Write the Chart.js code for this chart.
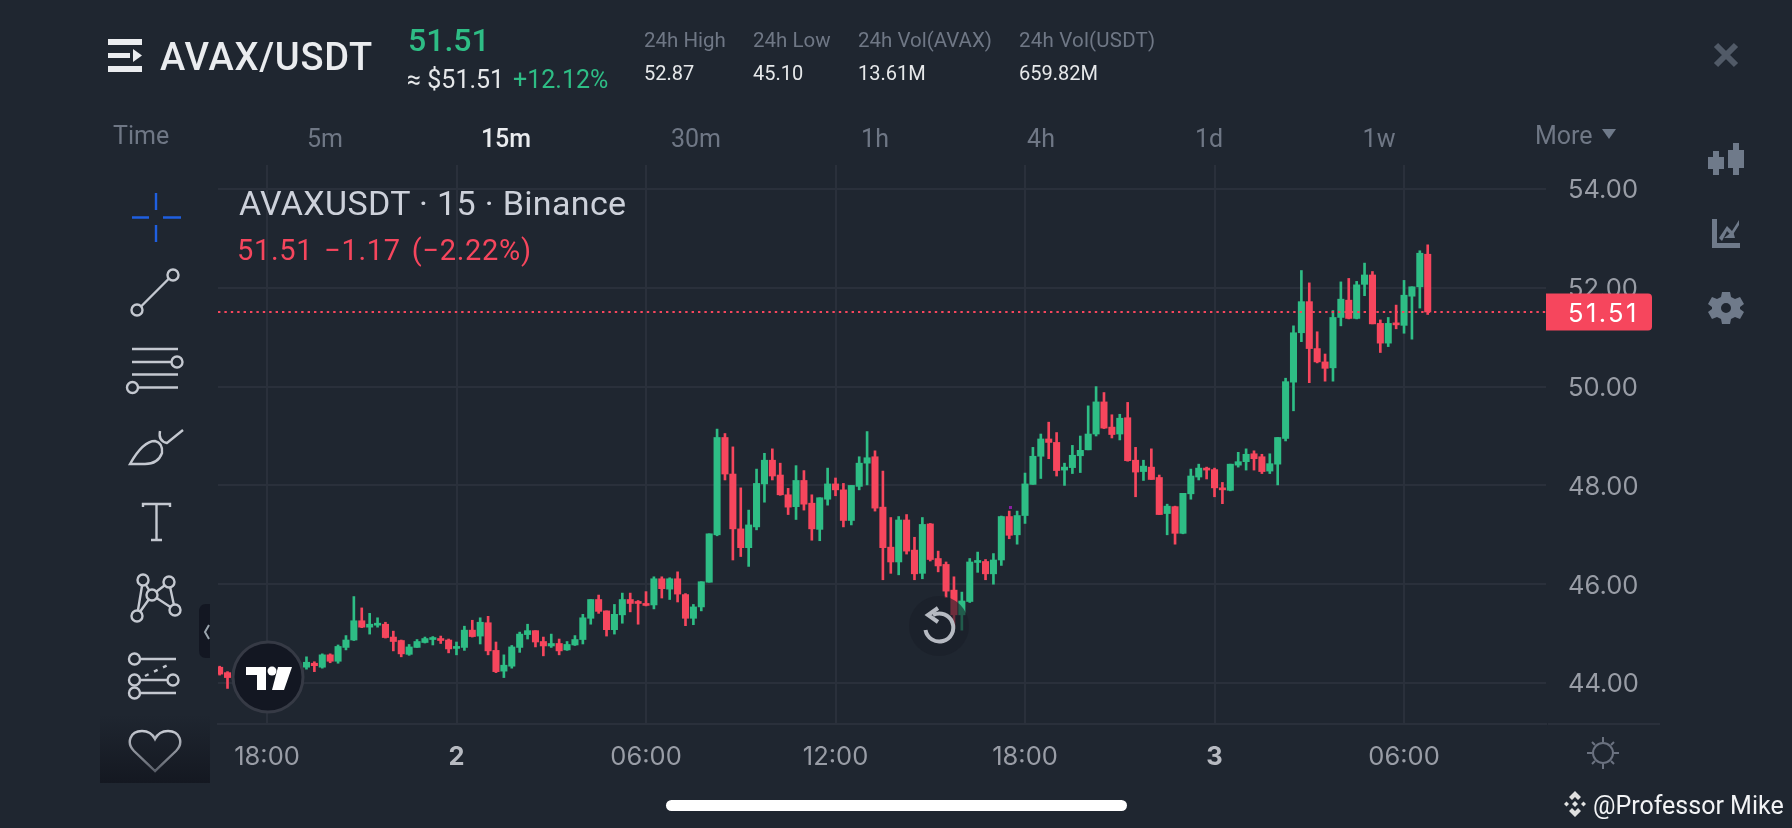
<!DOCTYPE html>
<html><head><meta charset="utf-8"><title>AVAX/USDT</title>
<script src="https://cdn.jsdelivr.net/npm/chart.js@4/dist/chart.umd.min.js"></script>
<style>
html,body{margin:0;padding:0;background:#1f2630;width:1792px;height:828px;overflow:hidden}
#wrap{position:relative;width:1792px;height:828px;font-family:Roboto,sans-serif}
canvas{position:absolute;left:0;top:0}
.t{position:absolute;white-space:nowrap;line-height:1;transform:translateY(-50%)}
.c{transform:translate(-50%,-50%)}
svg.ov{position:absolute;left:0;top:0;pointer-events:none}
.g{color:#6f7785}.w{color:#e6e8ea}.up{color:#2ebd85}.dn{color:#f6465d}
.tf{font-size:25px;color:#6f7785}
</style></head><body><div id="wrap">
<canvas id="c" width="1792" height="828"></canvas>
<svg class="ov" width="1792" height="828" viewBox="0 0 1792 828">
<defs><linearGradient id="fade" x1="0" y1="0" x2="0" y2="1"><stop offset="0" stop-color="#1f2630"/><stop offset="1" stop-color="#141821"/></linearGradient>
<linearGradient id="hf" x1="0" y1="0" x2="0" y2="1"><stop offset="0" stop-color="#c4c8d0"/><stop offset="1" stop-color="#5a5f69"/></linearGradient></defs>
<rect x="100" y="715" width="110" height="68" fill="url(#fade)"/>
<g fill="#eaecef"><rect x="108" y="39" width="34" height="6"/><rect x="108" y="53" width="22" height="5"/><path d="M133 49 L142 55.5 L133 62Z"/><rect x="108" y="66" width="34" height="6"/></g>
<g stroke="#1f5fe0" stroke-width="2.4"><path d="M132 217.5H149M163 217.5H181M156 193V210M156 225V242"/></g>
<g fill="none" stroke="#c4c8d0" stroke-width="2.4">
<path d="M141 306.5L169 278.5"/><circle cx="137" cy="310" r="5.5"/><circle cx="173" cy="275" r="5.5"/>
<path d="M132 349H178M132 362H172M132 374.5H178M138 387.5H178"/><circle cx="177" cy="362" r="5.5"/><circle cx="132.5" cy="387.5" r="5.5"/>
<path d="M130 464Q143 441 155 441Q163 443 162 453Q158 464 145 464Z"/><path d="M160 431Q158 441 167 443L183 430"/>
<path d="M143 507V504H170V507M156.500 504V540M151 540H162"/>
<path d="M143 580L137 616M143 580L152 595M169 582L152 595M169 582L175 610M152 595L137 616M152 595L175 610"/>
<g fill="#1f2630"><circle cx="143" cy="580" r="5.500"/><circle cx="169" cy="582" r="5.500"/><circle cx="152" cy="595" r="5.500"/><circle cx="137" cy="616" r="5.500"/><circle cx="175" cy="610" r="5.500"/></g>
<path d="M140 659H176M140 680H168M140 693H176"/><path d="M145 676L172 663" stroke-dasharray="4 6"/>
<circle cx="134.500" cy="659" r="5.500"/><circle cx="134.500" cy="680" r="5.500"/><circle cx="173" cy="680" r="5.500"/><circle cx="134.500" cy="693" r="5.500"/>
</g>
<path d="M155 771L134 751C126 743 130 731 142 731C149 731 153 735 155 739C157 735 161 731 168 731C180 731 184 743 176 751Z" fill="none" stroke="url(#hf)" stroke-width="2.400"/>
<path d="M210 604H206Q199 604 199 612V650Q199 658 206 658H210Z" fill="#131722"/><path d="M209 625L205 632L209 639" fill="none" stroke="#9aa4ad" stroke-width="2"/>
<circle cx="268" cy="677" r="35" fill="#131722" stroke="#363a45" stroke-width="3"/>
<g fill="#fff"><path d="M246 667H266V690H257V675H246Z"/><circle cx="272" cy="671" r="4.500"/><path d="M278 667H292L284 690H272Z"/></g>
<circle cx="939" cy="626" r="30" fill="#1a1f29" fill-opacity=".62"/>
<path d="M933 615A14 14 0 1 1 925.500 630" fill="none" stroke="#b6bac2" stroke-width="4"/>
<path d="M938 608L928 615L938 622" fill="none" stroke="#b6bac2" stroke-width="4"/>
<rect x="1009" y="506" width="3" height="3" fill="#8a1fa0"/>
<rect x="1548" y="723" width="112" height="2" fill="#2a303b"/>
<path d="M1716 45L1736 65M1736 45L1716 65" stroke="#515a67" stroke-width="6" fill="none"/>
<g fill="#6f7a8a"><rect x="1708" y="157" width="16" height="12"/><rect x="1713" y="151" width="6" height="24"/><rect x="1728" y="150" width="16" height="18"/><rect x="1733" y="143" width="6" height="32"/>
<path d="M1712 219H1717V243H1740V248H1712Z"/><path d="M1719 238L1727 226L1732 231L1739 220L1739 225L1732 236L1727 231L1722 241Z"/><path d="M1724 238L1733 231L1735 238Z"/>
<path fill-rule="evenodd" d="M1722 292H1730L1731 297L1735 299L1740 297L1744 304L1740 307V309L1744 312L1740 319L1735 317L1731 319L1730 324H1722L1721 319L1717 317L1712 319L1708 312L1712 309V307L1708 304L1712 297L1717 299L1721 297ZM1726 303A5 5 0 1 0 1726 313A5 5 0 1 0 1726 303Z"/></g>
<path d="M1602 129H1616L1609 139Z" fill="#6f7a8a"/>
<g fill="none" stroke="#6b7280" stroke-width="2"><circle cx="1603" cy="753" r="10"/><path d="M1603 737V742M1603 764V769M1587 753H1592M1614 753H1619M1592 742L1595 745M1614 742L1611 745M1592 764L1595 761M1614 764L1611 761"/></g>
<g fill="#e0e0e0"><path d="M1575 791L1581 797L1578 800L1575 797L1572 800L1569 797Z"/><path d="M1575 817L1569 811L1572 808L1575 811L1578 808L1581 811Z"/><path d="M1575 801L1578 804L1575 807L1572 804Z"/><path d="M1564 804L1566.500 801.500L1569 804L1566.500 806.500Z"/><path d="M1581 804L1583.500 801.500L1586 804L1583.500 806.500Z"/></g>
<rect x="666" y="800" width="461" height="11" rx="5.500" fill="#fff"/>
</svg>

<div class="t" style="left:160px;top:57px;font-size:38px;font-weight:500;color:#eaecef;letter-spacing:.8px">AVAX/USDT</div>
<div class="t up" style="left:408px;top:40px;font-size:32px;font-weight:500">51.51</div>
<div class="t w" style="left:407px;top:79px;font-size:25px">≈ $51.51</div>
<div class="t up" style="left:513px;top:79px;font-size:25px">+12.12%</div>
<div class="t g" style="left:644px;top:40px;font-size:20.5px">24h High</div>
<div class="t w" style="left:644px;top:73px;font-size:20px">52.87</div>
<div class="t g" style="left:753px;top:40px;font-size:20.5px">24h Low</div>
<div class="t w" style="left:753px;top:73px;font-size:20px">45.10</div>
<div class="t g" style="left:858px;top:40px;font-size:20.5px">24h Vol(AVAX)</div>
<div class="t w" style="left:858px;top:73px;font-size:20px">13.61M</div>
<div class="t g" style="left:1019px;top:40px;font-size:20.5px;letter-spacing:.2px">24h Vol(USDT)</div>
<div class="t w" style="left:1019px;top:73px;font-size:20px">659.82M</div>
<div class="t tf" style="left:113px;top:135px">Time</div>
<div class="t c tf" style="left:325px;top:138px">5m</div>
<div class="t c tf" style="left:506px;top:138px;color:#eaecef;font-weight:500">15m</div>
<div class="t c tf" style="left:696px;top:138px">30m</div>
<div class="t c tf" style="left:875px;top:138px">1h</div>
<div class="t c tf" style="left:1041px;top:138px">4h</div>
<div class="t c tf" style="left:1209px;top:138px">1d</div>
<div class="t c tf" style="left:1379px;top:138px">1w</div>
<div class="t tf" style="left:1535px;top:135px">More</div>
<div class="t" style="left:239px;top:203px;font-size:34px;color:#cdd1da;letter-spacing:.35px">AVAXUSDT · 15 · Binance</div>
<div class="t dn" style="left:237px;top:250px;font-size:29px;letter-spacing:.7px;word-spacing:3px">51.51 −1.17 (−2.22%)</div>
<div class="t" style="left:1593px;top:805px;font-size:25px;color:#f2f3f5">@Professor Mike</div>
</div>
<script>
const indices=[-6,-5,-4,-3,-2,-1,0,1,2,3,4,5,6,7,8,9,10,11,12,13,14,15,16,17,18,19,20,21,22,23,24,25,26,27,28,29,30,31,32,33,34,35,36,37,38,39,40,41,42,43,44,45,46,47,48,49,50,51,52,53,54,55,56,57,58,59,60,61,62,63,64,65,66,67,68,69,70,71,72,73,74,75,76,77,78,79,80,81,82,83,84,85,86,87,88,89,90,91,92,93,94,95,96,97,98,99,100,101,102,103,104,105,106,107,108,109,110,111,112,113,114,115,116,117,118,119,120,121,122,123,124,125,126,127,128,129,130,131,132,133,134,135,136,137,138,139,140,141,142,143,144,145,146,147];
const opens=[44.32,44.21,44.15,44.10,44.02,44.10,44.20,44.14,44.24,44.18,44.30,
44.32,44.40,44.32,44.57,44.44,44.72,44.87,45.26,45.13,45.17,45.19,44.93,44.86,44.58,44.72,44.82,44.88,44.90,44.87,44.70,44.72,45.07,44.95,45.22,44.66,44.24,44.34,44.72,44.98,45.06,44.84,44.75,44.80,44.67,44.77,44.88,45.31,45.69,45.46,45.08,45.38,45.69,45.64,45.61,45.58,46.11,45.90,46.11,45.79,45.31,45.54,46.04,
47.00,48.97,48.23,47.12,46.74,47.16,48.03,48.51,48.21,47.81,47.57,48.10,47.64,47.11,47.72,48.03,47.91,47.29,47.98,48.45,48.58,47.56,46.75,46.45,47.30,46.69,46.22,47.22,46.52,46.40,45.88,45.38,45.65,46.44,46.46,46.21,46.49,47.37,47.00,
47.39,48.02,48.59,48.94,48.87,48.31,48.36,48.60,48.72,49.04,49.69,49.18,49.04,49.37,48.51,48.28,48.37,48.16,47.43,47.57,47.03,47.83,48.17,48.35,48.32,47.95,47.90,48.41,48.48,48.64,48.58,48.29,48.43,48.95,50.09,51.09,51.72,50.77,50.50,50.38,51.40,51.75,51.38,52.07,52.26,51.28,50.88,51.27,51.24,51.83,52.02,52.68];
const closes=[44.18,44.11,44.07,44.02,44.12,44.20,44.14,44.24,44.18,44.26,44.34,
44.42,44.35,44.57,44.44,44.74,44.87,45.26,45.13,45.19,45.19,44.92,44.84,44.59,44.73,44.84,44.90,44.90,44.86,44.69,44.72,45.07,44.94,45.23,44.65,44.23,44.36,44.73,44.99,45.06,44.83,44.75,44.80,44.65,44.78,44.88,45.32,45.69,45.45,45.08,45.39,45.69,45.61,45.61,45.57,46.11,45.91,46.11,45.80,45.31,45.54,46.05,47.02,
48.97,48.23,47.12,46.74,47.20,48.04,48.51,48.19,47.81,47.56,48.10,47.62,47.12,47.75,48.03,47.91,47.29,48.00,48.45,48.56,47.54,46.74,46.45,47.30,46.67,46.21,47.21,46.50,46.37,45.86,45.38,45.66,46.45,46.47,46.21,46.49,47.37,46.99,47.39,
48.03,48.59,48.94,48.87,48.30,48.37,48.61,48.71,49.04,49.69,49.16,49.03,49.36,48.50,48.27,48.39,48.12,47.41,47.58,47.03,47.84,48.19,48.35,48.31,47.95,47.91,48.43,48.48,48.63,48.54,48.28,48.44,48.97,50.10,51.09,51.72,50.77,50.50,50.37,51.40,51.77,51.38,52.06,52.26,51.27,50.88,51.28,51.25,51.85,52.02,52.70,51.51];
const highs=[44.34,44.23,44.16,44.14,44.16,44.24,44.24,44.28,44.28,44.30,44.38,
44.53,44.43,44.59,44.59,44.77,44.96,45.75,45.52,45.41,45.32,45.23,45.05,44.87,44.78,44.88,44.93,44.94,44.95,44.89,44.83,45.15,45.27,45.32,45.35,44.83,44.57,44.76,45.03,45.19,45.06,44.93,44.99,44.89,44.84,44.96,45.39,45.69,45.78,45.46,45.59,45.82,45.82,45.67,45.85,46.15,46.15,46.13,46.25,45.81,45.59,46.05,47.02,
49.14,49.05,48.78,47.95,47.50,48.33,48.65,48.74,48.45,47.94,48.40,48.30,47.81,47.75,48.35,48.15,48.04,48.00,48.58,49.09,48.70,48.29,47.35,47.37,47.41,46.95,47.35,47.23,46.67,46.45,46.15,45.84,46.52,46.65,46.50,46.62,47.38,47.48,47.48,
48.25,48.77,49.04,49.28,49.07,48.45,48.81,49.00,49.61,50.00,49.88,49.43,49.44,49.68,48.77,48.51,48.74,48.21,47.62,47.58,47.84,48.33,48.43,48.37,48.35,48.06,48.43,48.67,48.74,48.70,48.63,48.64,48.97,50.17,51.23,52.35,52.10,51.11,50.66,51.54,52.12,52.19,52.13,52.50,52.33,51.35,51.40,51.65,52.15,52.02,52.75,52.87];
const lows=[44.16,43.89,44.06,43.98,44.00,44.06,44.10,44.10,44.14,44.16,44.28,
44.28,44.23,44.30,44.41,44.40,44.67,44.86,45.12,44.99,45.13,44.91,44.65,44.53,44.56,44.72,44.81,44.77,44.80,44.61,44.57,44.66,44.93,44.79,44.57,44.21,44.11,44.30,44.62,44.89,44.73,44.55,44.72,44.57,44.66,44.76,44.79,45.19,45.41,44.95,44.99,45.21,45.44,45.19,45.56,45.50,45.72,45.69,45.64,45.16,45.18,45.46,46.04,
46.98,48.11,46.49,46.56,46.36,47.10,47.66,48.11,47.80,47.41,47.31,47.50,46.89,46.88,47.60,47.79,47.16,47.20,47.91,48.01,47.48,46.09,46.22,46.19,46.61,46.09,46.11,46.47,46.25,45.73,45.14,45.07,45.63,46.24,46.09,46.00,46.38,46.92,46.81,
47.23,48.02,48.14,48.54,48.19,48.00,48.24,48.26,48.72,49.00,49.15,48.96,48.92,48.49,47.77,48.10,48.12,47.41,47.00,46.81,47.02,47.72,48.11,48.13,47.77,47.63,47.89,48.37,48.31,48.31,48.24,48.24,48.01,48.90,49.51,50.91,50.08,50.48,50.11,50.11,51.23,51.37,51.37,51.84,51.27,50.69,50.81,51.17,51.08,50.96,51.59,51.46];
const lastPrice=51.51;
const yTicks=[44,46,48,50,52,54];
const xTickIdx=[0,24,48,72,96,120,144];
const xTickLabels=['18:00','2','06:00','12:00','18:00','3','06:00'];
const upColor='#2ebd85',downColor='#f6465d',gridColor='#2a303b',axisText='#999da6';
const barColors=opens.map((o,k)=>closes[k]>=o?upColor:downColor);
const axisFont='Inter, sans-serif';
const isDay=c=>{const l=xTickLabels[xTickIdx.indexOf(c.tick?c.tick.value:NaN)]||'';return l.length===1;};
const lastTag={id:'lastTag',afterDraw(ch){
  const y=ch.scales.y.getPixelForValue(lastPrice),c=ch.ctx;
  c.save();c.fillStyle=downColor;c.beginPath();c.roundRect(1546,y-18.5,106,37,[0,4,4,0]);c.fill();
  c.fillStyle='#fff';c.font='25.5px '+axisFont;c.textBaseline='middle';c.textAlign='left';c.letterSpacing='2.4px';
  c.fillText(lastPrice.toFixed(2),1568,y+2);c.restore();
}};
new Chart(document.getElementById('c'),{
  data:{datasets:[
    {type:'line',order:0,data:[{x:-6.206,y:lastPrice},{x:161.98,y:lastPrice}],borderColor:downColor,borderWidth:2.2,borderDash:[2.4,4],pointRadius:0,tension:0},
    {type:'bar',order:1,data:indices.map((x,k)=>({x,y:[opens[k],closes[k]]})),backgroundColor:barColors,barThickness:6.4,minBarLength:2,grouped:false},
    {type:'bar',order:2,data:indices.map((x,k)=>({x,y:[lows[k],highs[k]]})),backgroundColor:barColors,barThickness:2,grouped:false}
  ]},
  options:{
    responsive:false,animation:false,devicePixelRatio:1,
    layout:{padding:{left:218,top:165,right:0,bottom:0}},
    plugins:{legend:{display:false},tooltip:{enabled:false},title:{display:false}},
    scales:{
      x:{type:'linear',offset:false,min:-6.206,max:161.98,
        afterBuildTicks(s){s.ticks=xTickIdx.map(v=>({value:v}));},
        afterFit(s){s.height=104;},
        grid:{offset:false,color:gridColor,lineWidth:2,drawTicks:false},
        border:{color:gridColor,width:2},
        ticks:{autoSkip:false,maxRotation:0,padding:18,color:c=>isDay(c)?'#b7bac1':axisText,
          font:c=>({family:axisFont,size:25.5,weight:isDay(c)?'700':'400'}),
          callback:(v)=>xTickLabels[xTickIdx.indexOf(v)]}
      },
      y:{type:'linear',position:'right',min:43.17,max:54.486,
        afterBuildTicks(s){s.ticks=yTicks.map(v=>({value:v}));},
        afterFit(s){s.width=246;},
        afterUpdate(s){const f=s._computeLabelItems;if(f&&!s._shifted){s._shifted=true;s._computeLabelItems=function(a){const it=f.call(this,a);it.forEach(i=>{i.textOffset+=1.7;});return it;};}},
        grid:{color:gridColor,lineWidth:2,drawTicks:false},
        border:{display:false},
        ticks:{padding:22,color:axisText,font:{family:axisFont,size:25.5},callback:v=>v.toFixed(2)}
      }
    }
  },
  plugins:[lastTag]
});
</script></body></html>
